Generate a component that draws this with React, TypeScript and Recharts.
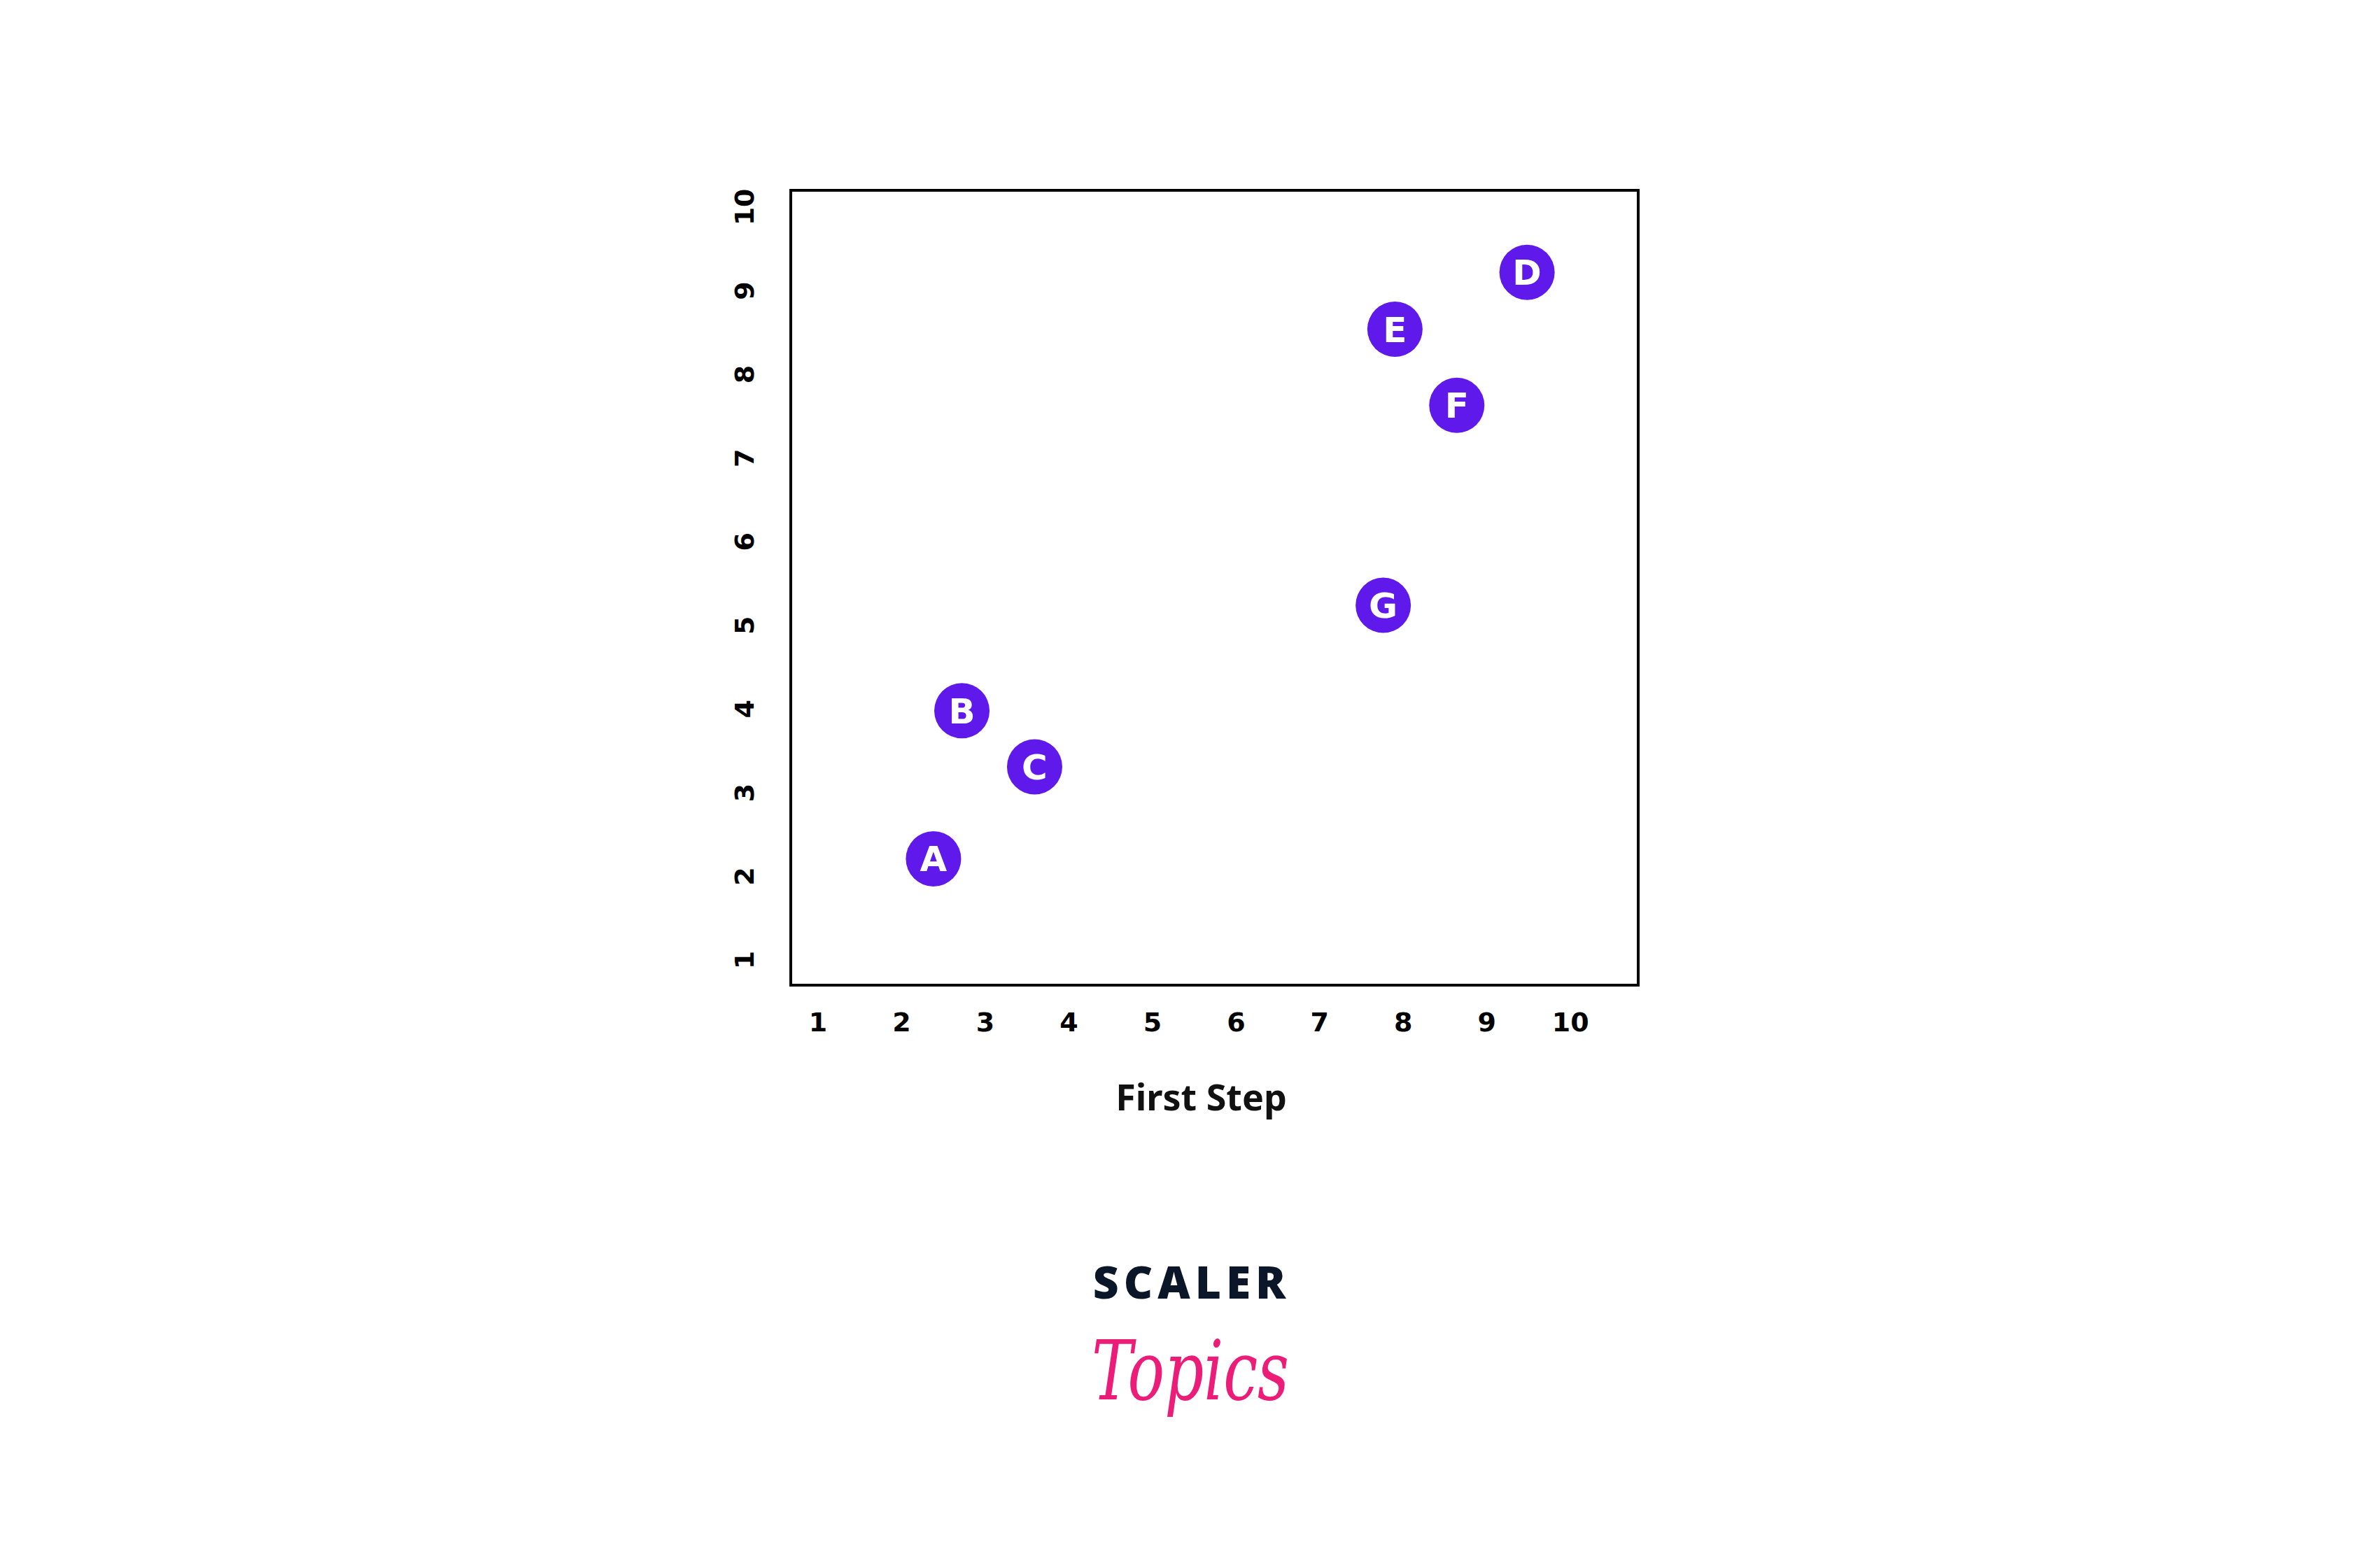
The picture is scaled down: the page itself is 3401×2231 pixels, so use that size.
import React from "react";
import { ReferenceArea, Scatter, ScatterChart, XAxis, YAxis } from "recharts";

// points
const pointLabels = ["A", "B", "C", "D", "E", "F", "G"];
const firstStep = [2.38, 2.72, 3.59, 9.48, 7.9, 8.64, 7.76];
const secondStep = [2.21, 3.98, 3.31, 9.22, 8.54, 7.63, 5.24];
const tickValues = [1, 2, 3, 4, 5, 6, 7, 8, 9, 10];
const xDomain: [number, number] = [0.673, 10.81];
const yDomain: [number, number] = [0.7, 10.2];

const points = pointLabels.map((label, i) => ({
  label,
  x: firstStep[i],
  y: secondStep[i],
}));

const PURPLE = "#5f19eb";
const TICK_FONT = "'DejaVu Sans', sans-serif";

function Bubble(props: any) {
  const { cx, cy, payload } = props;
  if (cx == null || cy == null) return null;
  return (
    <g>
      <circle cx={cx} cy={cy} r={39.5} fill={PURPLE} />
      <text
        x={cx}
        y={cy + 1}
        textAnchor="middle"
        dominantBaseline="central"
        fill="#fff"
        fontFamily={TICK_FONT}
        fontWeight="bold"
        fontSize={50}
      >
        {payload.label}
      </text>
    </g>
  );
}

function XTick({ x, y, payload }: any) {
  return (
    <text
      x={x}
      y={y + 53}
      textAnchor="middle"
      dominantBaseline="central"
      fill="#000"
      fontFamily={TICK_FONT}
      fontWeight="bold"
      fontSize={38}
    >
      {payload.value}
    </text>
  );
}

function YTick({ x, y, payload }: any) {
  const tx = x - 66;
  return (
    <text
      x={tx}
      y={y}
      transform={`rotate(-90 ${tx} ${y})`}
      textAnchor="middle"
      dominantBaseline="central"
      fill="#000"
      fontFamily={TICK_FONT}
      fontWeight="bold"
      fontSize={38}
    >
      {payload.value}
    </text>
  );
}

function XTitle(props: any) {
  const { x, y, width } = props.viewBox;
  return (
    <text
      x={x + width / 2 - 19}
      y={y + 158}
      textAnchor="middle"
      dominantBaseline="central"
      fill="#111"
      fontFamily="'Noto Sans', sans-serif"
      fontWeight={700}
      fontSize={52}
    >
      First Step
    </text>
  );
}

function Logo() {
  return (
    <svg
      width={3401}
      height={2231}
      style={{ position: "absolute", left: 0, top: 0, pointerEvents: "none" }}
    >
      <text
        x={1703}
        y={1856}
        textAnchor="middle"
        fill="#0b1628"
        fontFamily="'Open Sans', sans-serif"
        fontWeight={800}
        fontSize={64}
        letterSpacing={7}
      >
        SCALER
      </text>
      <text
        x={1560}
        y={2000}
        textLength={282}
        lengthAdjust="spacingAndGlyphs"
        fill="#ec1c79"
        fontFamily="'DejaVu Serif', serif"
        fontStyle="italic"
        fontSize={118}
      >
        Topics
      </text>
    </svg>
  );
}

export default function App() {
  return (
    <div
      style={{
        position: "absolute",
        left: 0,
        top: 0,
        width: 3401,
        height: 2231,
        background: "#fff",
      }}
    >
      <ScatterChart
        width={3401}
        height={2231}
        margin={{ top: 272, right: 1060, bottom: 723, left: 1030 }}
      >
        <XAxis
          type="number"
          dataKey="x"
          domain={xDomain}
          ticks={tickValues}
          allowDataOverflow
          axisLine={false}
          tickLine={false}
          tickSize={0}
          tickMargin={0}
          height={100}
          interval={0}
          tick={<XTick />}
          label={(p: any) => <XTitle {...p} />}
        />
        <YAxis
          type="number"
          dataKey="y"
          domain={yDomain}
          ticks={tickValues}
          allowDataOverflow
          axisLine={false}
          tickLine={false}
          tickSize={0}
          tickMargin={0}
          width={100}
          interval={0}
          tick={<YTick />}
        />
        <ReferenceArea
          x1={xDomain[0]}
          x2={xDomain[1]}
          y1={yDomain[0]}
          y2={yDomain[1]}
          fill="none"
          fillOpacity={0}
          stroke="#000"
          strokeWidth={4}
        />
        <Scatter data={points} shape={<Bubble />} isAnimationActive={false} />
      </ScatterChart>
      <Logo />
    </div>
  );
}
